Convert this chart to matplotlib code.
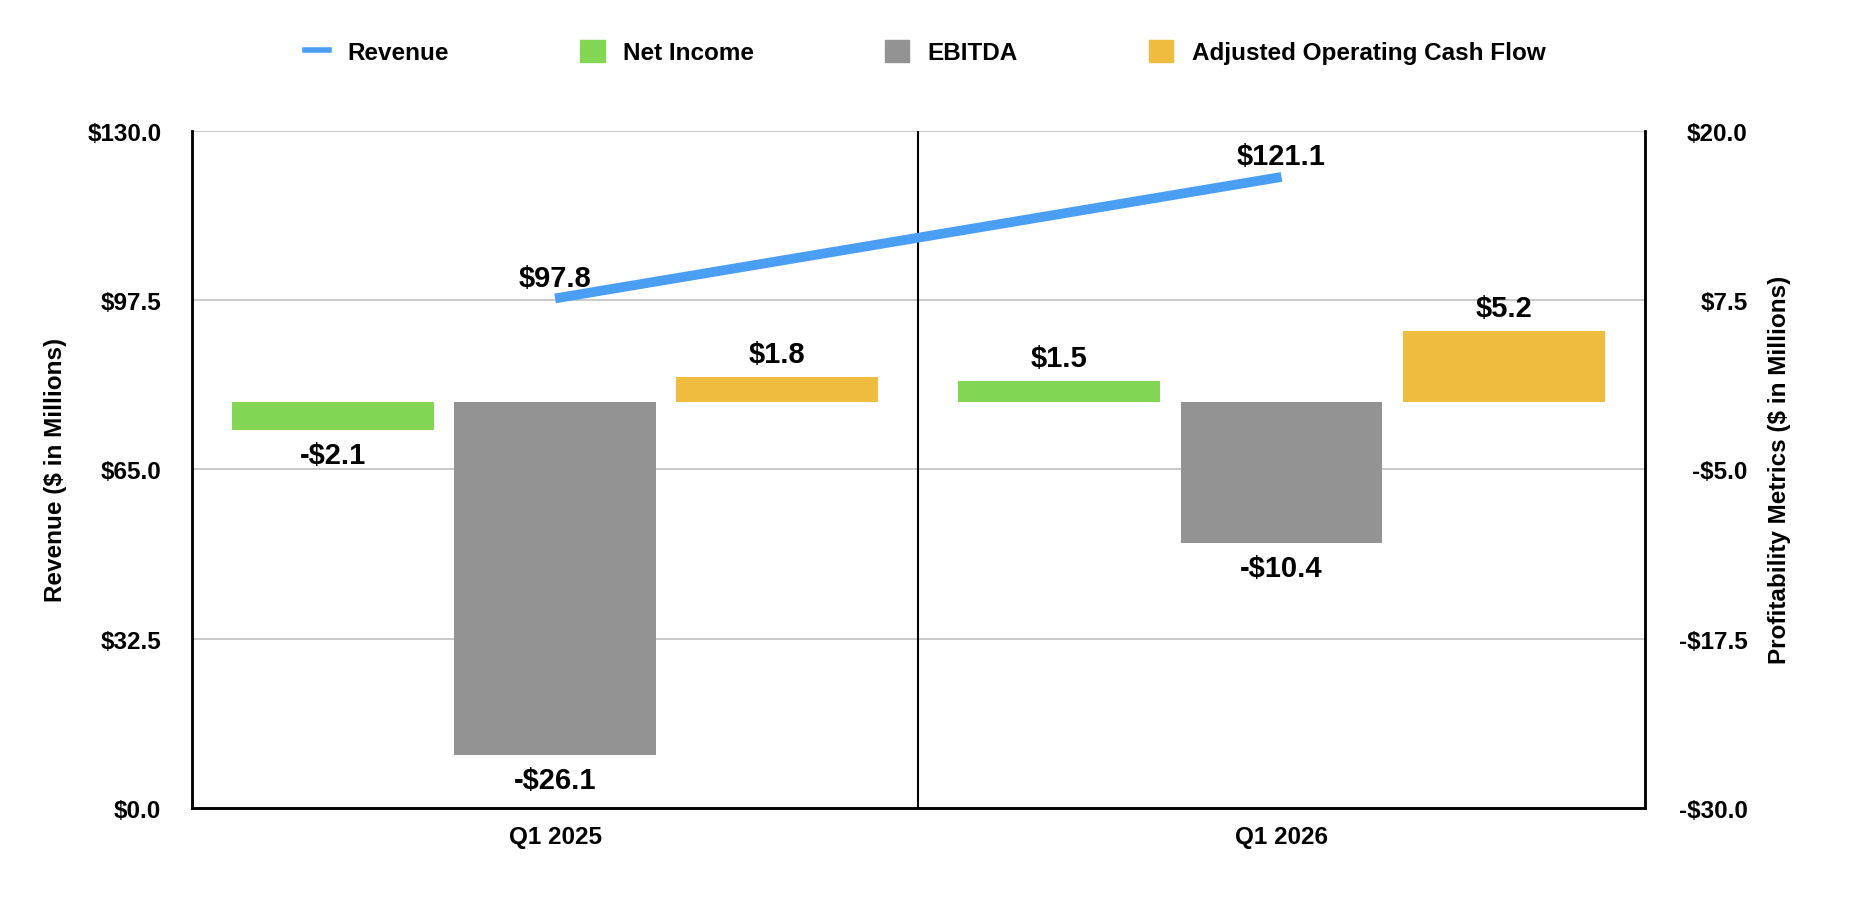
import matplotlib
matplotlib.use("Agg")
import matplotlib.pyplot as plt
from matplotlib.lines import Line2D
from matplotlib.patches import Patch
import numpy as np

plt.rcParams['font.family'] = ['Liberation Sans', 'DejaVu Sans']
plt.rcParams['font.weight'] = 'bold'

quarters = ["Q1 2025", "Q1 2026"]
revenue = [97.8, 121.1]
net_income = [-2.1, 1.5]
ebitda = [-26.1, -10.4]
adj_ocf = [1.8, 5.2]

left_ticks = [0.0, 32.5, 65.0, 97.5, 130.0]
right_ticks = [-30.0, -17.5, -5.0, 7.5, 20.0]

c_rev = "#4A9FF5"
c_ni = "#83D653"
c_eb = "#939393"
c_ocf = "#EFBC3F"

fig = plt.figure(figsize=(18.58, 9.04), dpi=100)
ax = fig.add_axes([0.1033, 0.1047, 0.7819, 0.7498])
ax2 = ax.twinx()

x = np.arange(len(quarters))
w = 0.278
step = 0.306

# grid + revenue line on the left axis
ax.set_ylim(0, 130)
ax.set_yticks(left_ticks)
ax.set_yticklabels([f"${v:.1f}" for v in left_ticks])
ax.grid(axis="y", color="#C0C0C0", lw=1.2)
ax.set_axisbelow(True)
ax.plot(x, revenue, color=c_rev, lw=7, solid_capstyle="butt", zorder=3)
for xi, v in zip(x, revenue):
    ax.annotate(f"${v:.1f}", (xi, v), xytext=(0, 15), textcoords="offset points",
                ha="center", va="center", fontsize=21, fontweight="bold")

# bars on the right axis
ax2.set_ylim(-30, 20)
ax2.set_yticks(right_ticks)
ax2.set_yticklabels([f"-${-v:.1f}" if v < 0 else f"${v:.1f}" for v in right_ticks])
for off, vals, col in [(-step, net_income, c_ni), (0, ebitda, c_eb), (step, adj_ocf, c_ocf)]:
    ax2.bar(x + off, vals, width=w, color=col, zorder=2)
    for xi, v in zip(x + off, vals):
        txt = f"-${-v:.1f}" if v < 0 else f"${v:.1f}"
        dy = -18 if v < 0 else 17
        ax2.annotate(txt, (xi, v), xytext=(0, dy), textcoords="offset points",
                     ha="center", va="center", fontsize=21, fontweight="bold")

ax.set_xlim(-0.5, 1.5)
ax.set_xticks(x)
ax.set_xticklabels(quarters)
ax.axvline(0.5, color="black", lw=1.5)

for a in (ax, ax2):
    a.spines["top"].set_visible(False)
    for s in ("left", "right", "bottom"):
        a.spines[s].set_linewidth(1.8)
        a.spines[s].set_color("black")

ax.tick_params(axis="both", length=0, labelsize=17.5)
ax.tick_params(axis="y", pad=22)
ax.tick_params(axis="x", pad=12)
ax2.tick_params(axis="y", length=0, labelsize=17.5, pad=74)
for lbl in ax2.get_yticklabels():
    lbl.set_ha("right")

fig.text(55.7 / 1858, 1 - 470 / 904, "Revenue ($ in Millions)", rotation=90,
         ha="center", va="center", fontsize=17.5, fontweight="bold")
fig.text(1780 / 1858, 1 - 470 / 904, "Profitability Metrics ($ in Millions)", rotation=90,
         ha="center", va="center", fontsize=17.5, fontweight="bold")

handles = [
    Line2D([0], [0], color=c_rev, lw=4),
    Patch(color=c_ni),
    Patch(color=c_eb),
    Patch(color=c_ocf),
]
labels = ["Revenue", "Net Income", "EBITDA", "Adjusted Operating Cash Flow"]
fig.legend(handles, labels, loc="center", bbox_to_anchor=(0.498, 1 - 53 / 904), ncol=4,
           frameon=False, fontsize=17.5, handlelength=1.0, handleheight=1.05,
           handletextpad=0.75, columnspacing=5.4)

fig.savefig("out.png", dpi=100)
